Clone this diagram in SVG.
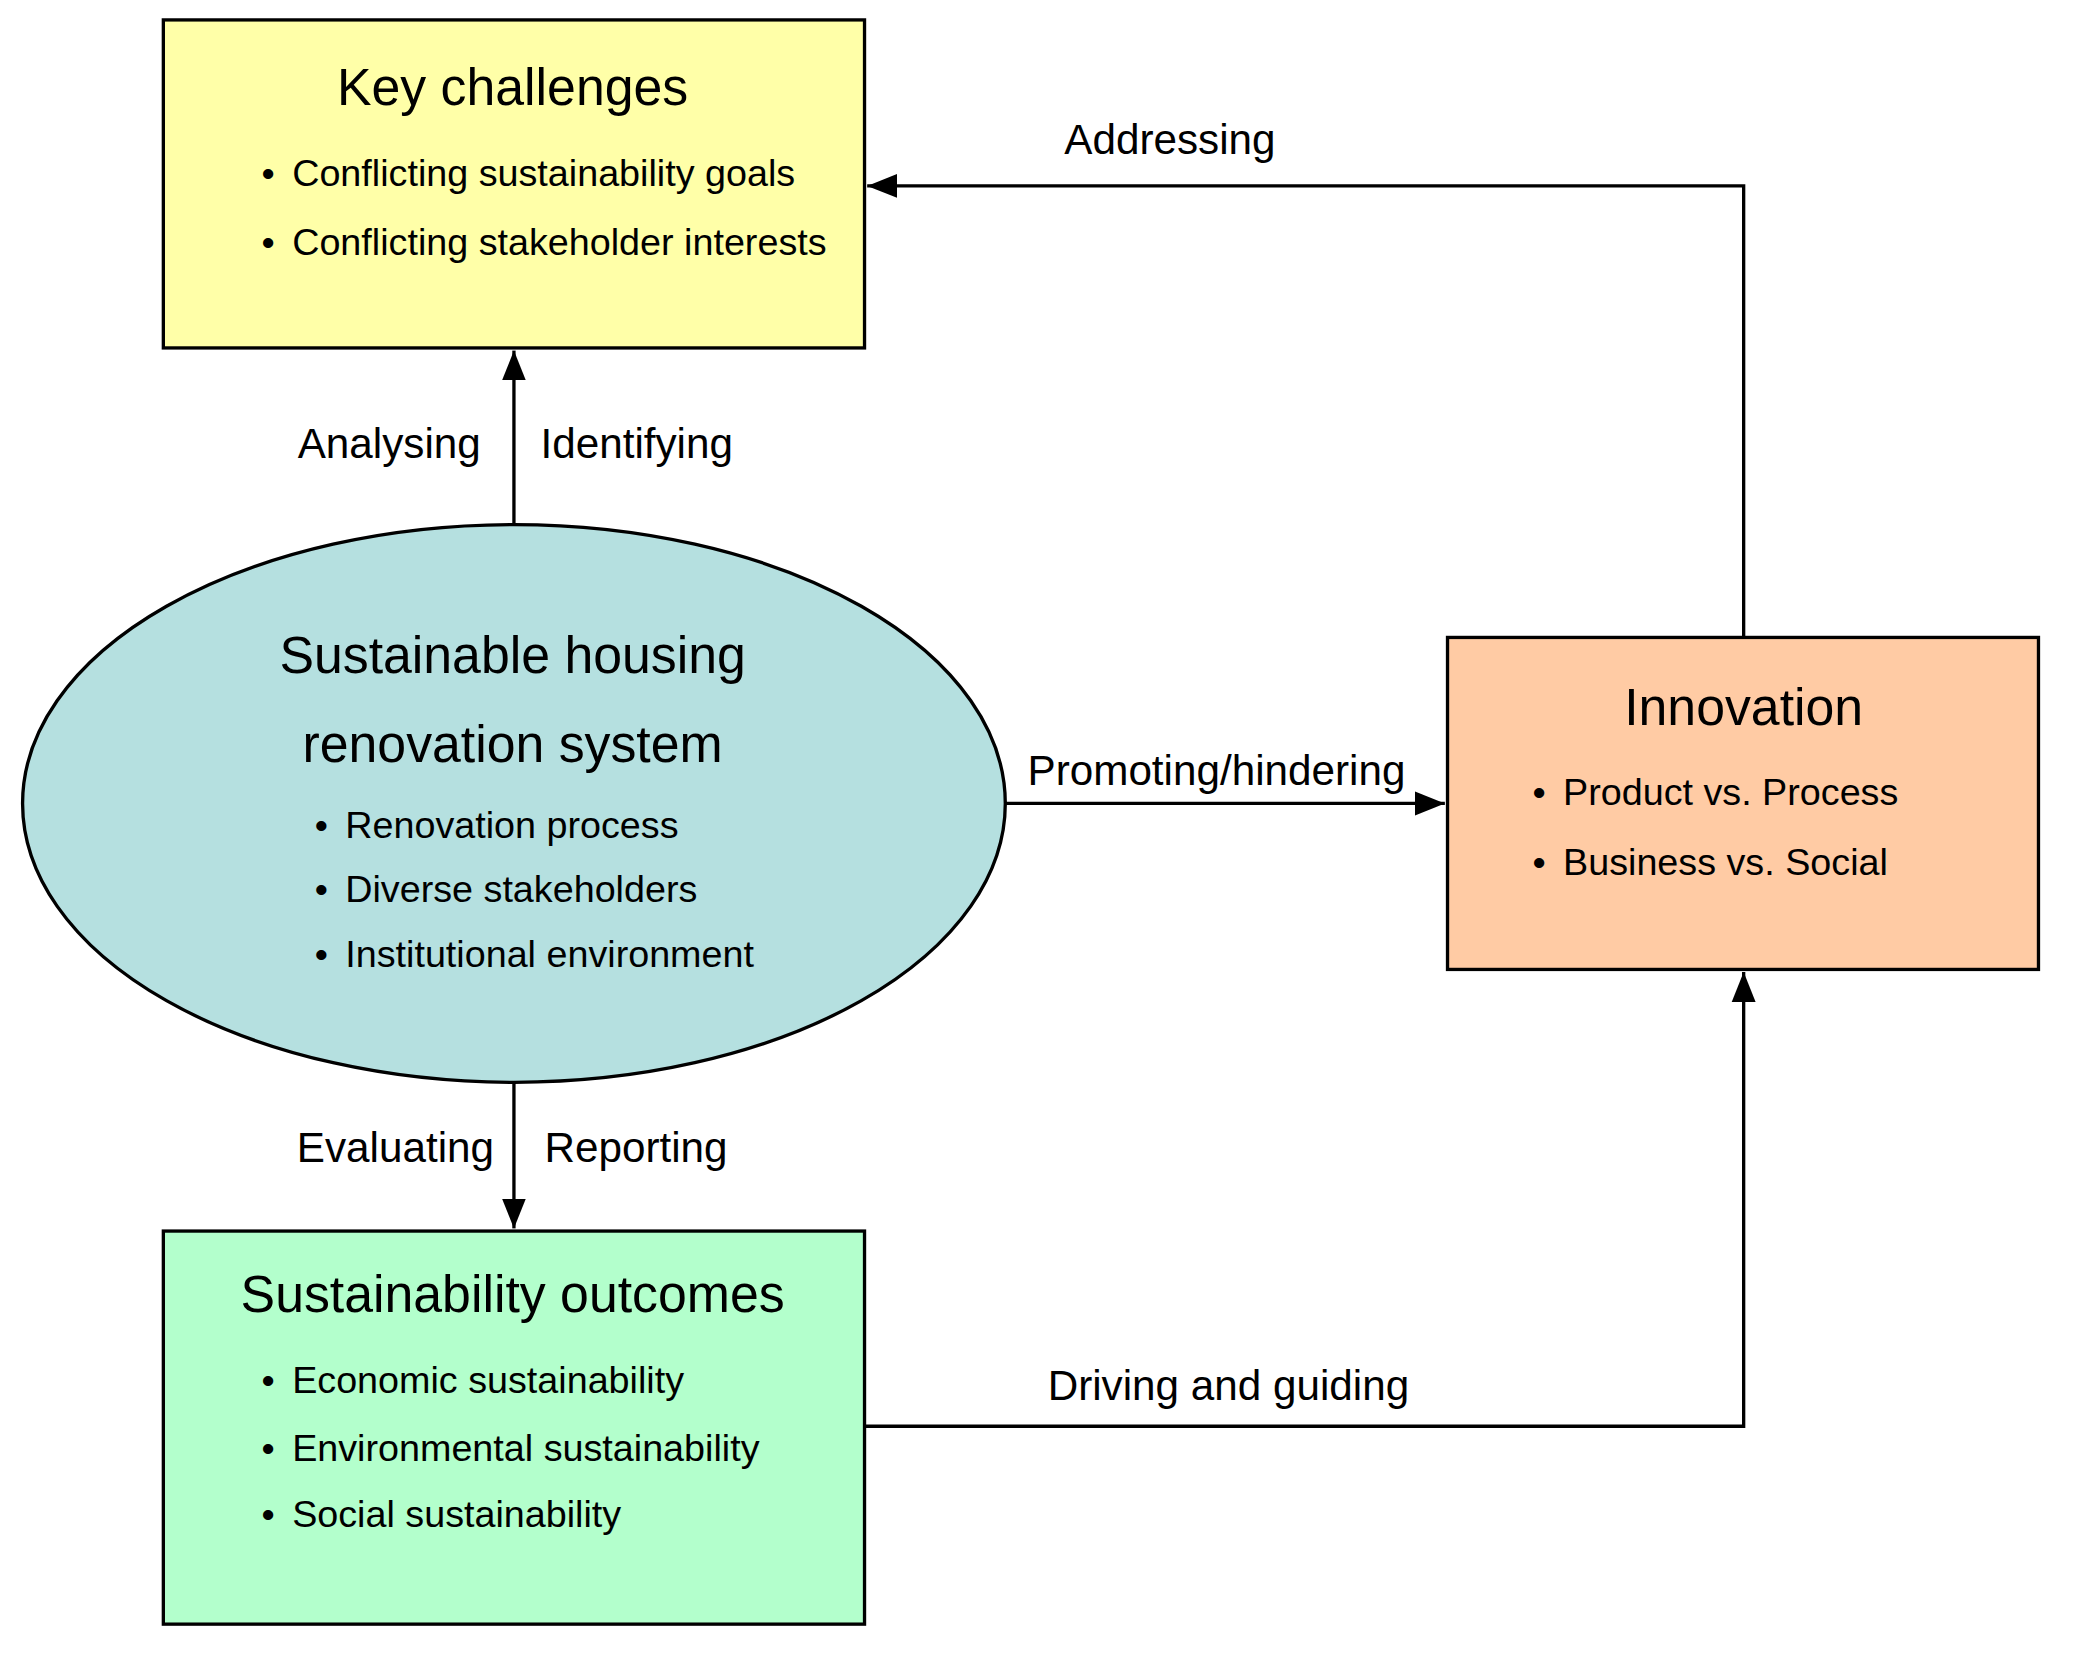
<svg xmlns="http://www.w3.org/2000/svg" width="2080" height="1664" viewBox="0 0 2080 1664">
<style>
text{font-family:"Liberation Sans",Arial,sans-serif;fill:#000}
.t{font-size:39px;text-anchor:middle}
.b{font-size:28.4px}
.l{font-size:31.8px}
.s{stroke:#000;stroke-width:2.5;fill:none}
</style>
<defs>
<marker id="m" viewBox="0 0 10 10" refX="10" refY="5" markerWidth="9" markerHeight="9" orient="auto" markerUnits="strokeWidth"><path d="M0,1L10,5L0,9z" fill="#000"/></marker></defs>
<rect width="2080" height="1664" fill="#fff"/>
<g transform="scale(1.328)">
<g id="challenges"><rect x="123" y="15" width="528" height="247" class="s" style="fill:#ffffa8"/>
<text class="t" x="386" y="79">Key challenges</text>
<text class="b" x="197" y="140">•</text><text class="b" x="220" y="140">Conflicting sustainability goals</text>
<text class="b" x="197" y="192">•</text><text class="b" x="220" y="192">Conflicting stakeholder interests</text></g>
<g id="system"><ellipse cx="387" cy="605" rx="370" ry="210" class="s" style="fill:#b5e0e0"/>
<text class="t" x="386" y="507">Sustainable housing</text>
<text class="t" x="386" y="574">renovation system</text>
<text class="b" x="237" y="631">•</text><text class="b" x="260" y="631">Renovation process</text>
<text class="b" x="237" y="679">•</text><text class="b" x="260" y="679">Diverse stakeholders</text>
<text class="b" x="237" y="728">•</text><text class="b" x="260" y="728">Institutional environment</text></g>
<g id="innovation"><rect x="1090" y="480" width="445" height="250" class="s" style="fill:#ffcba4"/>
<text class="t" x="1313" y="546">Innovation</text>
<text class="b" x="1154" y="606">•</text><text class="b" x="1177" y="606">Product vs. Process</text>
<text class="b" x="1154" y="659">•</text><text class="b" x="1177" y="659">Business vs. Social</text></g>
<g id="outcomes"><rect x="123" y="927" width="528" height="296" class="s" style="fill:#b3ffcc"/>
<text class="t" x="386" y="988">Sustainability outcomes</text>
<text class="b" x="197" y="1049">•</text><text class="b" x="220" y="1049">Economic sustainability</text>
<text class="b" x="197" y="1100">•</text><text class="b" x="220" y="1100">Environmental sustainability</text>
<text class="b" x="197" y="1150">•</text><text class="b" x="220" y="1150">Social sustainability</text></g>
<g id="connectors">
<path class="s" d="M387,395V264" marker-end="url(#m)"/>
<path class="s" d="M387,815V925" marker-end="url(#m)"/>
<path class="s" d="M757,605H1088" marker-end="url(#m)"/>
<path class="s" d="M1313,480V140H653" marker-end="url(#m)"/>
<path class="s" d="M651,1074H1313V732" marker-end="url(#m)"/>
<text class="l" x="362" y="345" text-anchor="end">Analysing</text>
<text class="l" x="407" y="345">Identifying</text>
<text class="l" x="372" y="875" text-anchor="end">Evaluating</text>
<text class="l" x="410" y="875">Reporting</text>
<text class="l" x="916" y="591" text-anchor="middle">Promoting/hindering</text>
<text class="l" x="881" y="116" text-anchor="middle">Addressing</text>
<text class="l" x="925" y="1054" text-anchor="middle">Driving and guiding</text>
</g></g>
</svg>
